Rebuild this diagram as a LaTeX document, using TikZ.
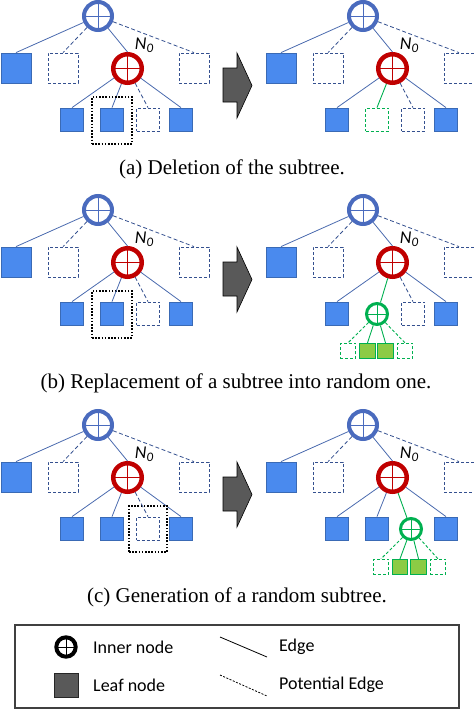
\documentclass[tikz,border=0pt]{standalone}
\usepackage{fontspec}
\setmainfont{Liberation Serif}
\newfontfamily\legfont{Carlito}
\definecolor{ringblue}{HTML}{4A6BBE}
\definecolor{ringred}{HTML}{C00000}
\definecolor{leafblue}{HTML}{4A8AEE}
\definecolor{leafborder}{HTML}{3A6AB5}
\definecolor{edgeblue}{HTML}{4A6AAE}
\definecolor{dashblue}{HTML}{34508F}
\definecolor{ringgreen}{HTML}{00B050}
\definecolor{leafgreen}{HTML}{8CCB45}
\definecolor{arrowgray}{HTML}{595959}
\tikzset{
  inode/.style={circle, draw=#1, line width=4pt, minimum size=28pt, inner sep=0pt,
    path picture={\draw[line width=0.8pt, draw=#1]
      (path picture bounding box.north) -- (path picture bounding box.south)
      (path picture bounding box.west) -- (path picture bounding box.east);}},
  leaf/.style={rectangle, draw=leafborder, fill=leafblue, line width=0.8pt, minimum size=#1, inner sep=0pt},
  pleaf/.style={rectangle, draw=dashblue, line width=0.8pt, dash pattern=on 3pt off 2pt, minimum size=#1, inner sep=0pt},
  gleaf/.style={rectangle, draw=ringgreen, fill=leafgreen, line width=0.8pt, minimum size=15.5pt, inner sep=0pt},
  gpleaf/.style={rectangle, draw=ringgreen, line width=0.8pt, dash pattern=on 3pt off 2pt, minimum size=#1, inner sep=0pt},
  edge/.style={draw=edgeblue, line width=0.8pt},
  pedge/.style={draw=dashblue, line width=0.8pt, dash pattern=on 4pt off 2.5pt},
  gedge/.style={draw=ringgreen, line width=0.9pt},
  gpedge/.style={draw=ringgreen, line width=0.9pt, dash pattern=on 3pt off 2pt},
  dotbox/.style={rectangle, draw=black, line width=2pt, dash pattern=on 1.6pt off 1.6pt, inner sep=0pt},
  bigarrow/.style={fill=arrowgray, draw=black, line width=0.6pt},
  caption/.style={font=\fontsize{21}{24}\selectfont, inner sep=0pt},
  legtext/.style={font=\legfont\fontsize{18}{20}\selectfont, anchor=west, inner sep=0pt},
  nlabel/.style={font=\legfont\fontsize{18}{20}\selectfont\itshape, inner sep=0pt}
}
% common part of every tree: #1 prefix, #2 x shift, #3 y shift
\newcommand{\treebase}[3]{%
  \begin{scope}[shift={(#2,#3)}]
    \node[inode=ringblue] (#1top) at (98,16) {};
    \node[leaf=30pt] (#1L) at (16,68) {};
    \node[pleaf=30pt] (#1P) at (63,68) {};
    \node[pleaf=30pt] (#1R) at (194,68) {};
    \node[inode=ringred, line width=4.5pt, minimum size=28.5pt] (#1n) at (127.5,68.5) {};
    \node[nlabel] (#1lab) at (144,45) {N\raisebox{-3pt}{\fontsize{13}{13}\selectfont 0}};
    \node[leaf=23pt] (#1a) at (72,119.5) {};
    \node[leaf=23pt] (#1d) at (181,119.5) {};
    \draw[edge] (#1top) -- (#1L.north);
    \draw[pedge] (#1top) -- (#1P.north);
    \draw[pedge] (#1top) -- (#1R.north);
    \draw[edge] (#1top) -- (#1n.north);
    \draw[edge] (#1n) -- (#1a.north);
    \draw[edge] (#1n) -- (#1d.north);
  \end{scope}}
\newcommand{\transarrow}[1]{%
  \begin{scope}[shift={(0,#1)}]
    \draw[bigarrow] (223,68) -- (237,68) -- (237,53) -- (252,85.5) -- (237,118) -- (237,102) -- (223,102) -- cycle;
  \end{scope}}
\begin{document}
\begin{tikzpicture}[x=1pt, y=-1pt]
\useasboundingbox (0,0) rectangle (474,710);

% ---------- (a) ----------
\treebase{al}{0}{0}
\node[leaf=23pt] (alb) at (112,119.5) {};
\node[pleaf=23pt] (alc) at (148,119.5) {};
\draw[edge] (aln) -- (alb.north);
\draw[pedge] (aln) -- (alc.north);
\node[dotbox, minimum width=40pt, minimum height=47pt] (alsel) at (112,120.5) {};
\transarrow{0}
\treebase{ar}{265}{0}
\begin{scope}[shift={(265,0)}]
  \node[gpleaf=23pt] (arb) at (112,119.5) {};
  \node[pleaf=23pt] (arc) at (148,119.5) {};
\end{scope}
\draw[gedge] (arn) -- (arb.north);
\draw[pedge] (arn) -- (arc.north);
\node[caption] (capa) at (232,169) {(a) Deletion of the subtree.};

% ---------- (b) ----------
\treebase{bl}{0}{194}
\begin{scope}[shift={(0,194)}]
  \node[leaf=23pt] (blb) at (112,119.5) {};
  \node[pleaf=23pt] (blc) at (148,119.5) {};
  \node[dotbox, minimum width=40pt, minimum height=47pt] (blsel) at (112,120.5) {};
\end{scope}
\draw[edge] (bln) -- (blb.north);
\draw[pedge] (bln) -- (blc.north);
\transarrow{194}
\treebase{br}{265}{194}
\begin{scope}[shift={(265,194)}]
  \node[inode=ringgreen, line width=3pt, minimum size=21pt] (brg) at (112,120) {};
  \node[pleaf=23pt] (brc) at (148,119.5) {};
  \node[gpleaf=15.5pt] (brg1) at (83,157) {};
  \node[gleaf] (brg2) at (102.5,157) {};
  \node[gleaf] (brg3) at (120.5,157) {};
  \node[gpleaf=15.5pt] (brg4) at (140,157) {};
\end{scope}
\draw[gedge] (brn) -- (brg);
\draw[pedge] (brn) -- (brc.north);
\draw[gpedge] (brg) -- (brg1.north);
\draw[gedge] (brg) -- (brg2.north);
\draw[gedge] (brg) -- (brg3.north);
\draw[gpedge] (brg) -- (brg4.north);
\node[caption] (capb) at (236,383) {(b) Replacement of a subtree into random one.};

% ---------- (c) ----------
\treebase{cl}{0}{409}
\begin{scope}[shift={(0,409)}]
  \node[leaf=23pt] (clb) at (112,119.5) {};
  \node[pleaf=23pt] (clc) at (148,119.5) {};
  \node[dotbox, minimum width=38pt, minimum height=46pt] (clsel) at (148,120) {};
\end{scope}
\draw[edge] (cln) -- (clb.north);
\draw[pedge] (cln) -- (clc.north);
\transarrow{409}
\treebase{cr}{265}{409}
\begin{scope}[shift={(265,409)}]
  \node[leaf=23pt] (crb) at (112,119.5) {};
  \node[inode=ringgreen, line width=3pt, minimum size=21pt] (crg) at (146,120) {};
  \node[gpleaf=15.5pt] (crg1) at (116,158) {};
  \node[gleaf] (crg2) at (135,158) {};
  \node[gleaf] (crg3) at (153.5,158) {};
  \node[gpleaf=15.5pt] (crg4) at (173,158) {};
\end{scope}
\draw[edge] (crn) -- (crb.north);
\draw[gedge] (crn) -- (crg);
\draw[gpedge] (crg) -- (crg1.north);
\draw[gedge] (crg) -- (crg2.north);
\draw[gedge] (crg) -- (crg3.north);
\draw[gpedge] (crg) -- (crg4.north);
\node[caption] (capc) at (237,597) {(c) Generation of a random subtree.};

% ---------- legend ----------
\node[rectangle, draw=black!75, line width=1.2pt, minimum width=444pt, minimum height=83pt, inner sep=0pt] (legend) at (237,666.5) {};
\node[inode=black, line width=4pt, minimum size=19.4pt] (leginner) at (66,647) {};
\node[legtext] (leginnert) at (93,647) {Inner node};
\node[rectangle, draw=black!85, fill=arrowgray, line width=0.8pt, minimum size=24pt, inner sep=0pt] (legleaf) at (66,685) {};
\node[legtext] (legleaft) at (93,685) {Leaf node};
\coordinate (e1a) at (220,637);
\coordinate (e1b) at (267,657);
\draw[black, line width=0.8pt] (e1a) -- (e1b);
\node[legtext] (legedge) at (279,647) {Edge};
\coordinate (e2a) at (220,675);
\coordinate (e2b) at (267,696);
\draw[black, line width=0.8pt, dash pattern=on 2pt off 1.5pt] (e2a) -- (e2b);
\node[legtext] (legpedge) at (279,685) {Potential Edge};
\end{tikzpicture}
\end{document}
